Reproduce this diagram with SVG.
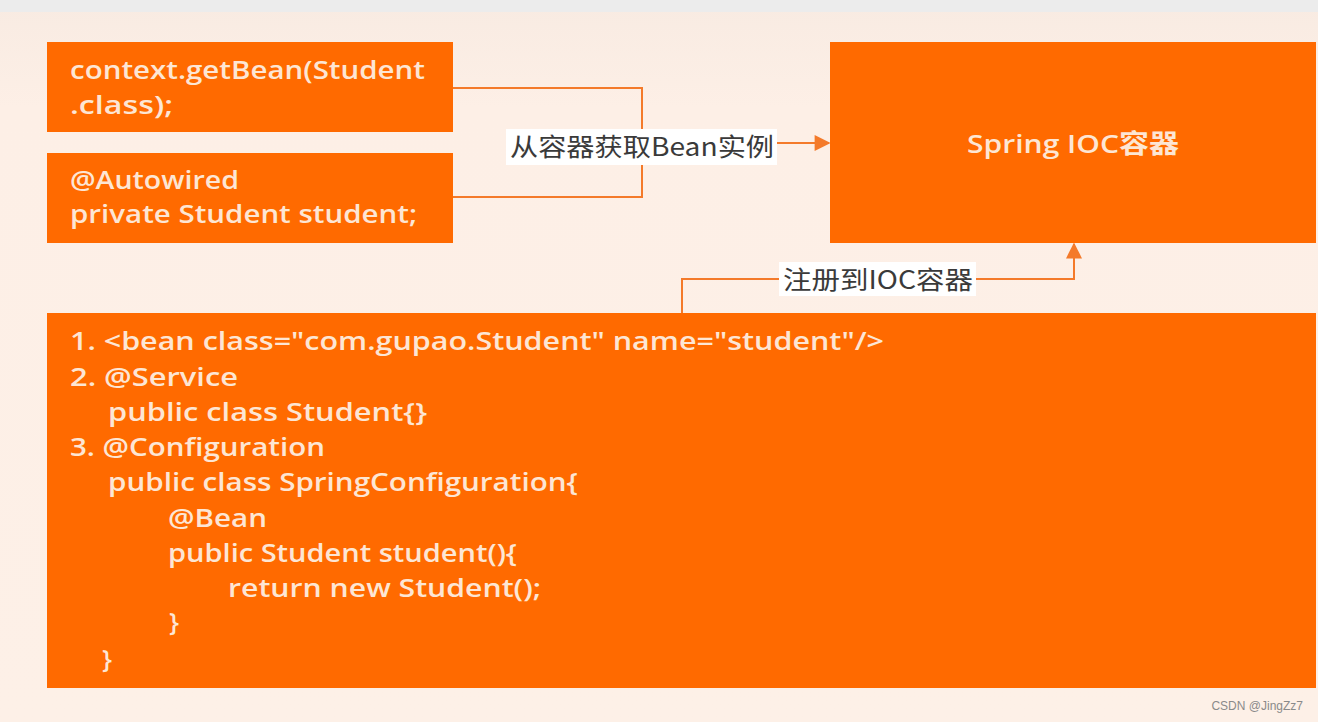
<svg xmlns="http://www.w3.org/2000/svg" width="1318" height="722" viewBox="0 0 1318 722">
<defs>
<linearGradient id="bg" x1="0" y1="0" x2="0" y2="1">
<stop offset="0" stop-color="#f8ebe2"/>
<stop offset="0.15" stop-color="#fdefe6"/>
<stop offset="1" stop-color="#fdf0e7"/>
</linearGradient>
<marker id="arr" viewBox="0 0 10 10" refX="9" refY="5" markerWidth="18" markerHeight="16" markerUnits="userSpaceOnUse" orient="auto">
<path d="M0,0 L10,5 L0,10 z" fill="#f47a2a"/>
</marker>
<style>
.box{fill:#ff6a00;}
.t{font-family:"Open Sans","Noto Sans","Noto Sans CJK SC",sans-serif;font-size:26px;font-weight:600;fill:#fde6d4;}
.lbl{font-family:"Noto Sans CJK SC","Noto Sans",sans-serif;font-size:25px;fill:#3a3a3a;}
.lb{fill:#ffffff;}
.c{fill:none;stroke:#f47a2a;stroke-width:2;}
</style>
</defs>
<rect width="1318" height="722" fill="url(#bg)"/>
<rect width="1318" height="12" fill="#ececec"/>
<g id="connectors">
<path class="c" d="M453,88 H642 V197 H453"/>
<path class="c" d="M642,143 H829" marker-end="url(#arr)"/>
<path class="c" d="M682,313 V279 H1074 V244" marker-end="url(#arr)"/>
<rect class="lb" x="506" y="129" width="271" height="36"/>
<text class="lbl" x="510" y="156" textLength="264" lengthAdjust="spacingAndGlyphs">从容器获取Bean实例</text>
<rect class="lb" x="779" y="262" width="197" height="34"/>
<text class="lbl" x="783" y="289" textLength="190" lengthAdjust="spacingAndGlyphs">注册到IOC容器</text>
</g>
<g id="node-getbean">
<rect class="box" x="47" y="42" width="406" height="90"/>
<text class="t" x="70" y="79" textLength="355" lengthAdjust="spacingAndGlyphs">context.getBean(Student</text>
<text class="t" x="70" y="114" textLength="103" lengthAdjust="spacingAndGlyphs">.class);</text>
</g>
<g id="node-autowired">
<rect class="box" x="47" y="153" width="406" height="90"/>
<text class="t" x="70" y="189" textLength="169" lengthAdjust="spacingAndGlyphs">@Autowired</text>
<text class="t" x="70" y="223" textLength="347" lengthAdjust="spacingAndGlyphs">private Student student;</text>
</g>
<g id="node-ioc">
<rect class="box" x="830" y="42" width="486" height="201"/>
<text class="t" x="967" y="153" font-weight="700" font-size="25" textLength="212" lengthAdjust="spacingAndGlyphs">Spring IOC容器</text>
</g>
<g id="node-register">
<rect class="box" x="47" y="313" width="1269" height="375"/>
<text class="t" x="70" y="350" textLength="814" lengthAdjust="spacingAndGlyphs">1. &lt;bean class="com.gupao.Student" name="student"/&gt;</text>
<text class="t" x="70" y="386" textLength="168" lengthAdjust="spacingAndGlyphs">2. @Service</text>
<text class="t" x="108" y="421" textLength="319" lengthAdjust="spacingAndGlyphs">public class Student{}</text>
<text class="t" x="70" y="456" textLength="255" lengthAdjust="spacingAndGlyphs">3. @Configuration</text>
<text class="t" x="108" y="491" textLength="470" lengthAdjust="spacingAndGlyphs">public class SpringConfiguration{</text>
<text class="t" x="168" y="527" textLength="99" lengthAdjust="spacingAndGlyphs">@Bean</text>
<text class="t" x="168" y="562" textLength="349" lengthAdjust="spacingAndGlyphs">public Student student(){</text>
<text class="t" x="228" y="597" textLength="313" lengthAdjust="spacingAndGlyphs">return new Student();</text>
<text class="t" x="169" y="631">}</text>
<text class="t" x="102" y="668">}</text>
</g>
<text x="1303" y="710" text-anchor="end" font-family="'Liberation Sans',sans-serif" font-size="12" fill="#8a8a8a">CSDN @JingZz7</text>
</svg>
